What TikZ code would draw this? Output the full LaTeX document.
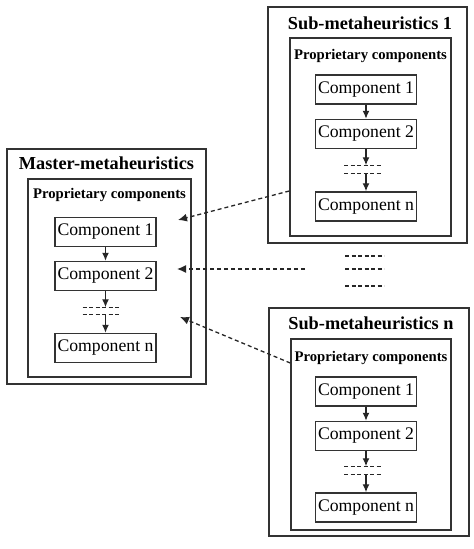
\documentclass[tikz,border=0pt]{standalone}
\usepackage{fontspec}
\setmainfont{Liberation Serif}
\usetikzlibrary{arrows.meta}

\tikzset{
    frame/.style={draw=black!80, line width=1.5pt, inner sep=0pt},
    title/.style={font=\fontsize{18.3}{20}\selectfont\bfseries},
    prop/.style={font=\fontsize{14.7}{16}\selectfont\bfseries},
    comp/.style={draw=black!80, line width=1.5pt, minimum width=101pt, minimum height=29pt, inner sep=0pt, font=\fontsize{17.7}{20}\selectfont},
    flow/.style={draw=black!85, line width=1.3pt, -{Latex[length=8pt,width=7pt]}},
    sep/.style={draw=black!85, line width=1.3pt, dash pattern=on 4pt off 2.5pt},
    link/.style={draw=black!85, line width=1.3pt, dash pattern=on 4pt off 3pt, -{Latex[length=9pt,width=8pt]}}
}

\begin{document}
\begin{tikzpicture}[x=1pt,y=-1pt]

    \useasboundingbox (0,0) rectangle (474,549);

    % master
    \node[frame, minimum width=199pt, minimum height=235pt] (m-out) at (106.5,266.5) {};
    \node[frame, minimum width=163pt, minimum height=198pt] (m-in) at (109.5,278) {};
    \node[title] (m-title) at (106.5,163) {Master-metaheuristics};
    \node[prop] (m-prop) at (109.5,195) {Proprietary components};
    \node[comp] (m-c1) at (105.5,232) {Component 1};
    \node[comp] (m-c2) at (105.5,276) {Component 2};
    \node[comp] (m-cn) at (105.5,348) {Component n};
    \coordinate (m-d1) at ([yshift=-16pt]m-c2.south);
    \coordinate (m-d2) at ([yshift=-23pt]m-c2.south);
    \draw[sep] ([xshift=-23pt]m-d1) -- ([xshift=15pt]m-d1);
    \draw[sep] ([xshift=-23pt]m-d2) -- ([xshift=15pt]m-d2);
    \draw[flow] (m-c1) -- (m-c2);
    \draw[flow] (m-c2) -- (m-d1);
    \draw[flow] (m-d2) -- (m-cn);

    % sub 1
    \node[frame, minimum width=199pt, minimum height=236pt] (s1-out) at (367.5,125) {};
    \node[frame, minimum width=161pt, minimum height=198pt] (s1-in) at (370.5,137) {};
    \node[title] (s1-title) at (370,23) {Sub-metaheuristics 1};
    \node[prop] (s1-prop) at (370.5,56) {Proprietary components};
    \node[comp] (s1-c1) at (366,89.5) {Component 1};
    \node[comp] (s1-c2) at (366,134) {Component 2};
    \node[comp] (s1-cn) at (366,206.5) {Component n};
    \coordinate (s1-d1) at ([yshift=-16pt]s1-c2.south);
    \coordinate (s1-d2) at ([yshift=-24pt]s1-c2.south);
    \draw[sep] ([xshift=-22pt]s1-d1) -- ([xshift=16pt]s1-d1);
    \draw[sep] ([xshift=-22pt]s1-d2) -- ([xshift=16pt]s1-d2);
    \draw[flow] (s1-c1) -- (s1-c2);
    \draw[flow] (s1-c2) -- (s1-d1);
    \draw[flow] (s1-d2) -- (s1-cn);

    % sub n
    \node[frame, minimum width=200pt, minimum height=228pt] (sn-out) at (369,422) {};
    \node[frame, minimum width=160pt, minimum height=191pt] (sn-in) at (371,434.5) {};
    \node[title] (sn-title) at (371,323) {Sub-metaheuristics n};
    \node[prop] (sn-prop) at (371,358) {Proprietary components};
    \node[comp] (sn-c1) at (366,391.5) {Component 1};
    \node[comp] (sn-c2) at (366,436) {Component 2};
    \node[comp] (sn-cn) at (366,507.5) {Component n};
    \coordinate (sn-d1) at ([yshift=-15pt]sn-c2.south);
    \coordinate (sn-d2) at ([yshift=-23pt]sn-c2.south);
    \draw[sep] ([xshift=-22pt]sn-d1) -- ([xshift=16pt]sn-d1);
    \draw[sep] ([xshift=-22pt]sn-d2) -- ([xshift=16pt]sn-d2);
    \draw[flow] (sn-c1) -- (sn-c2);
    \draw[flow] (sn-c2) -- (sn-d1);
    \draw[flow] (sn-d2) -- (sn-cn);

    % links to master
    \coordinate (t1) at (178,220);
    \coordinate (t2) at (177,269);
    \coordinate (t3) at (180,317);
    \coordinate (more) at (305,269);
    \draw[link] ([yshift=-54pt]s1-in.west) -- (t1);
    \draw[link] (more) -- (t2);
    \draw[link] ([yshift=71.5pt]sn-in.west) -- (t3);
    \foreach \y in {256,269,286} \draw[sep] (345,\y) -- (384,\y);

\end{tikzpicture}
\end{document}
